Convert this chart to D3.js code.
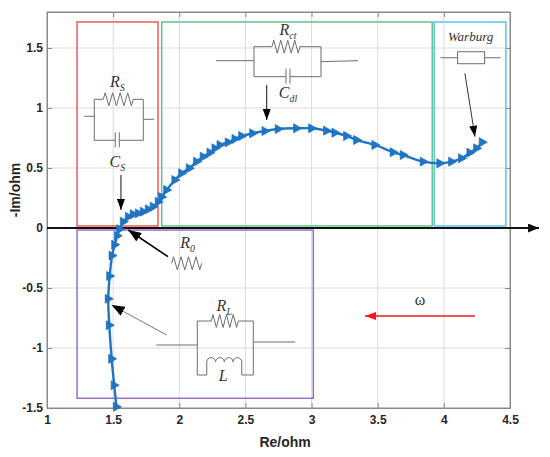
<!DOCTYPE html>
<html>
<head>
<meta charset="utf-8">
<script src="https://cdn.jsdelivr.net/npm/d3@7"></script>
<style>
  body { margin: 0; background: #fff; }
  svg text { font-family: "Liberation Sans", Arial, sans-serif; }
</style>
</head>
<body>
<div id="chart"></div>
<script>
// impedance spectrum points (Re, -Im) in ohm
const reVals = [1.525, 1.508, 1.489, 1.471, 1.463, 1.474, 1.492, 1.512, 1.531, 1.55,
    1.577, 1.615, 1.652, 1.690, 1.728, 1.766, 1.803, 1.841, 1.867, 1.905,
    1.967, 2.018, 2.076, 2.131, 2.181, 2.232, 2.270, 2.308, 2.370, 2.421,
    2.472, 2.555, 2.648, 2.748, 2.887, 3.001, 3.114, 3.177, 3.265, 3.341,
    3.479, 3.617, 3.693, 3.844, 3.970, 4.059, 4.134, 4.197, 4.248, 4.290];
const imVals = [-1.49, -1.31, -1.09, -0.81, -0.59, -0.40, -0.23, -0.14, -0.065, -0.01,
    0.053, 0.094, 0.114, 0.122, 0.136, 0.156, 0.178, 0.219, 0.258, 0.317,
    0.40, 0.456, 0.498, 0.553, 0.594, 0.628, 0.664, 0.692, 0.714, 0.742,
    0.767, 0.789, 0.808, 0.825, 0.831, 0.831, 0.811, 0.794, 0.767, 0.733,
    0.692, 0.631, 0.608, 0.553, 0.539, 0.553, 0.581, 0.628, 0.664, 0.715];

const xTicks = [1, 1.5, 2, 2.5, 3, 3.5, 4, 4.5];
const yTicks = [-1.5, -1, -0.5, 0, 0.5, 1, 1.5];

// region boxes: [x0, x1, y0, y1] in ohm
const boxNames = ["Rs", "Rct", "Warburg", "L"];
const boxExtents = [[1.227, 1.839, 0.017, 1.717], [1.867, 3.912, 0.017, 1.717],
    [3.927, 4.469, 0.017, 1.717], [1.227, 3.013, -1.419, -0.017]];
const boxColours = ["#f25a5a", "#5cc78a", "#5ec0f0", "#9b6fc6"];

const W = 550, H = 457;
const margins = { top: 12, right: 40, bottom: 49, left: 47 };
const plotW = W - margins.left - margins.right;
const plotH = H - margins.top - margins.bottom;

const svg = d3.select("#chart").append("svg")
    .attr("width", W).attr("height", H);

const defs = svg.append("defs");
function arrowHead(id, colour, len, wid) {
    defs.append("marker")
        .attr("id", id)
        .attr("markerUnits", "userSpaceOnUse")
        .attr("viewBox", `0 ${-wid / 2} ${len} ${wid}`)
        .attr("refX", len).attr("refY", 0)
        .attr("markerWidth", len).attr("markerHeight", wid)
        .attr("orient", "auto")
        .append("path")
        .attr("d", `M0,${-wid / 2}L${len},0L0,${wid / 2}Z`)
        .attr("fill", colour);
}
arrowHead("ahSmall", "#000", 11, 8);
arrowHead("ahBig", "#000", 13, 10);
arrowHead("ahAxis", "#111", 11, 9);
arrowHead("ahRed", "#f01818", 11, 8);

const x = d3.scaleLinear().domain([1, 4.5]).range([margins.left, margins.left + plotW]);
const y = d3.scaleLinear().domain([-1.5, 1.8]).range([margins.top + plotH, margins.top]);

// grid
svg.append("g").selectAll("line.gx")
    .data(xTicks.slice(1, -1)).enter().append("line")
    .attr("x1", d => x(d)).attr("x2", d => x(d))
    .attr("y1", y(1.8)).attr("y2", y(-1.5))
    .attr("stroke", "#dcdcdc").attr("stroke-width", 1);
svg.append("g").selectAll("line.gy")
    .data(yTicks.slice(1)).enter().append("line")
    .attr("x1", x(1)).attr("x2", x(4.5))
    .attr("y1", d => y(d)).attr("y2", d => y(d))
    .attr("stroke", "#dcdcdc").attr("stroke-width", 1);

// axes box
svg.append("rect")
    .attr("x", x(1)).attr("y", y(1.8))
    .attr("width", x(4.5) - x(1)).attr("height", y(-1.5) - y(1.8))
    .attr("fill", "none").attr("stroke", "#8a8a8a").attr("stroke-width", 1);

// axes
const xAxis = svg.append("g")
    .attr("transform", "translate(0," + y(-1.5) + ")")
    .call(d3.axisBottom(x).tickValues(xTicks).tickFormat(d => String(d)).tickSizeInner(-5).tickSizeOuter(0));
const yAxis = svg.append("g")
    .attr("transform", "translate(" + x(1) + ",0)")
    .call(d3.axisLeft(y).tickValues(yTicks).tickFormat(d => String(d)).tickSizeInner(-5).tickSizeOuter(0));
svg.append("g")
    .attr("transform", "translate(" + x(4.5) + ",0)")
    .call(d3.axisRight(y).tickValues(yTicks).tickFormat("").tickSizeInner(-5).tickSizeOuter(0));
svg.append("g")
    .attr("transform", "translate(0," + y(1.8) + ")")
    .call(d3.axisTop(x).tickValues(xTicks).tickFormat("").tickSizeInner(-5).tickSizeOuter(0));
svg.selectAll(".domain").attr("stroke", "#8a8a8a");
svg.selectAll(".tick line").attr("stroke", "#8a8a8a");
xAxis.selectAll("text").attr("dy", "1.05em").style("font-size", "12px").style("font-weight", "bold").attr("fill", "#262626");
yAxis.selectAll("text").attr("x", -4).style("font-size", "12px").style("font-weight", "bold").attr("fill", "#262626");

// axis labels
svg.append("text")
    .attr("text-anchor", "middle")
    .attr("x", x(2.8)).attr("y", 447)
    .style("font-size", "14px").style("font-weight", "bold").attr("fill", "#262626")
    .text("Re/ohm");
svg.append("text")
    .attr("text-anchor", "middle")
    .attr("transform", "rotate(-90)")
    .attr("x", -190).attr("y", 20)
    .style("font-size", "14px").style("font-weight", "bold").attr("fill", "#262626")
    .text("-Im/ohm");

// region boxes
svg.append("g").selectAll("rect")
    .data(boxExtents).enter().append("rect")
    .attr("x", d => x(d[0])).attr("y", d => y(d[3]))
    .attr("width", d => x(d[1]) - x(d[0]))
    .attr("height", d => y(d[2]) - y(d[3]))
    .attr("fill", "none")
    .attr("stroke", (d, i) => boxColours[i])
    .attr("stroke-width", 1.5);

// ------ circuit sketches ------
const grey = "#6e6e6e";
function zigzag(g, x0, x1, yy, amp, n) {
    const step = (x1 - x0) / (2 * n);
    let p = `M${x0},${yy}`;
    for (let i = 0; i < 2 * n; i++) {
        p += `L${x0 + (i + 0.5) * step},${yy + (i % 2 === 0 ? -amp : amp)}`;
    }
    p += `L${x1},${yy}`;
    g.append("path").attr("d", p).attr("fill", "none").attr("stroke", grey).attr("stroke-width", 1);
}
function seg(g, x1, y1, x2, y2, colour, w) {
    g.append("line").attr("x1", x1).attr("y1", y1).attr("x2", x2).attr("y2", y2)
        .attr("stroke", colour || grey).attr("stroke-width", w || 1);
}
function label(g, xx, yy, main, sub, size) {
    const t = g.append("text").attr("x", xx).attr("y", yy)
        .style("font-family", "'Liberation Serif', 'Times New Roman', serif")
        .style("font-style", "italic").style("font-size", size + "px").attr("fill", "#333")
        .attr("text-anchor", "middle");
    t.append("tspan").text(main);
    if (sub) t.append("tspan").attr("dy", 4).style("font-size", (size * 0.62) + "px").text(sub);
}
// parallel R-C cell, origin = top-left corner of the loop
function rcCell(ox, oy, w, h, zz0, zz1, plate, leadL, leadR, rSub, cSub, rLab, cLab) {
    const g = svg.append("g").attr("transform", `translate(${ox},${oy})`);
    seg(g, 0, 0, zz0, 0); zigzag(g, zz0, zz1, 0, 6.5, 4); seg(g, zz1, 0, w, 0);
    seg(g, 0, 0, 0, h); seg(g, w, 0, w, h);
    seg(g, 0, h, plate - 2, h); seg(g, plate + 2, h, w, h);
    seg(g, plate - 2, h - 8, plate - 2, h + 7); seg(g, plate + 2, h - 8, plate + 2, h + 7);
    seg(g, leadL[0], leadL[1], 0, leadL[1]);
    seg(g, w, leadR[1], leadR[0], leadR[2]);
    label(g, rLab[0], rLab[1], "R", rSub, 16);
    label(g, cLab[0], cLab[1], "C", cSub, 16);
    return g;
}
rcCell(x(1.3575), y(1.0725), 49, 41, 9, 39, 23, [-10, 17], [60, 20, 20], "S", "S", [23, -12], [23, 68]);
rcCell(x(2.5646), y(1.511), 67, 30, 18, 46, 34, [-38, 14], [104, 15, 14], "ct", "dl", [34, -12], [34, 51]);

// Warburg element
{
    const g = svg.append("g").attr("transform", `translate(${x(4.104)},${y(1.469)})`);
    g.append("rect").attr("x", 0).attr("y", 0).attr("width", 27).attr("height", 12)
        .attr("fill", "none").attr("stroke", grey);
    seg(g, -17, 6, 0, 6); seg(g, 27, 6, 43, 6);
    g.append("text").attr("x", 13).attr("y", -11).attr("text-anchor", "middle")
        .style("font-family", "'Liberation Serif', 'Times New Roman', serif")
        .style("font-style", "italic").style("font-size", "13px").attr("fill", "#333")
        .text("Warburg");
}

// R0 resistor
{
    const g = svg.append("g").attr("transform", `translate(${x(1.9425)},${y(-0.294)})`);
    zigzag(g, 0, 30, 0, 6.5, 4);
    label(g, 16, -15, "R", "0", 16);
}

// R_L || L cell
{
    const g = svg.append("g").attr("transform", `translate(${x(2.136)},${y(-0.775)})`);
    const w = 56, h = 54;
    seg(g, 0, 0, 14, 0); zigzag(g, 14, 41, 0, 6.5, 4); seg(g, 41, 0, w, 0);
    seg(g, 0, 0, 0, h); seg(g, w, 0, w, h);
    seg(g, -41, 24, 0, 24); seg(g, w, 21, 98, 21);
    // inductor
    const a = 9.5, b = 44.5, top = 41, r = (b - a) / 8;
    let p = `M0,${h}L${a},${h}L${a},${top}`;
    for (let i = 0; i < 4; i++) p += `A${r},${r} 0 0 1 ${a + (i + 1) * 2 * r},${top}`;
    p += `L${b},${h}L${w},${h}`;
    g.append("path").attr("d", p).attr("fill", "none").attr("stroke", grey);
    label(g, 27, -10, "R", "L", 16);
    label(g, 26, h + 6, "L", null, 16);
}

// pointer arrows
const pointers = [
    { from: [1.559, 0.442], to: [1.559, 0.15], w: 1, col: "#111", head: "ahSmall" },
    { from: [2.661, 1.192], to: [2.661, 0.9], w: 1, col: "#111", head: "ahSmall" },
    { from: [4.159, 1.289], to: [4.235, 0.761], w: 1, col: "#333", head: "ahSmall" },
    { from: [1.9146, -0.239], to: [1.6145, -0.0167], w: 1.6, col: "#000", head: "ahBig" },
    { from: [1.905, -0.892], to: [1.489, -0.642], w: 1, col: "#777", head: "ahBig" }
];
svg.append("g").selectAll("line")
    .data(pointers).enter().append("line")
    .attr("x1", d => x(d.from[0])).attr("y1", d => y(d.from[1]))
    .attr("x2", d => x(d.to[0])).attr("y2", d => y(d.to[1]))
    .attr("stroke", d => d.col).attr("stroke-width", d => d.w)
    .attr("marker-end", d => `url(#${d.head})`);

// omega arrow
svg.append("line")
    .attr("x1", x(4.235)).attr("x2", x(3.404))
    .attr("y1", y(-0.733)).attr("y2", y(-0.733))
    .attr("stroke", "#f01818").attr("stroke-width", 1.6)
    .attr("marker-end", "url(#ahRed)");
svg.append("text")
    .attr("x", x(3.82)).attr("y", y(-0.64))
    .attr("text-anchor", "middle")
    .style("font-family", "'Liberation Serif', 'Times New Roman', serif")
    .style("font-size", "16px").attr("fill", "#333")
    .text("ω");

// real axis with arrow
svg.append("line")
    .attr("x1", x(1)).attr("x2", 539)
    .attr("y1", y(0)).attr("y2", y(0))
    .attr("stroke", "#111").attr("stroke-width", 1.8)
    .attr("marker-end", "url(#ahAxis)");

// spectrum
const pts = reVals.map((v, i) => [v, imVals[i]]);
svg.append("path")
    .datum(pts)
    .attr("d", d3.line().x(d => x(d[0])).y(d => y(d[1])).curve(d3.curveCatmullRom))
    .attr("fill", "none")
    .attr("stroke", "#1f74c4")
    .attr("stroke-width", 2.4);
svg.append("g").selectAll("path")
    .data(pts).enter().append("path")
    .attr("transform", d => `translate(${x(d[0])},${y(d[1])})`)
    .attr("d", "M-3,-4.5L5,0L-3,4.5Z")
    .attr("fill", "#1f74c4")
    .attr("stroke", "#1f74c4").attr("stroke-width", 0.8);
</script>
</body>
</html>
